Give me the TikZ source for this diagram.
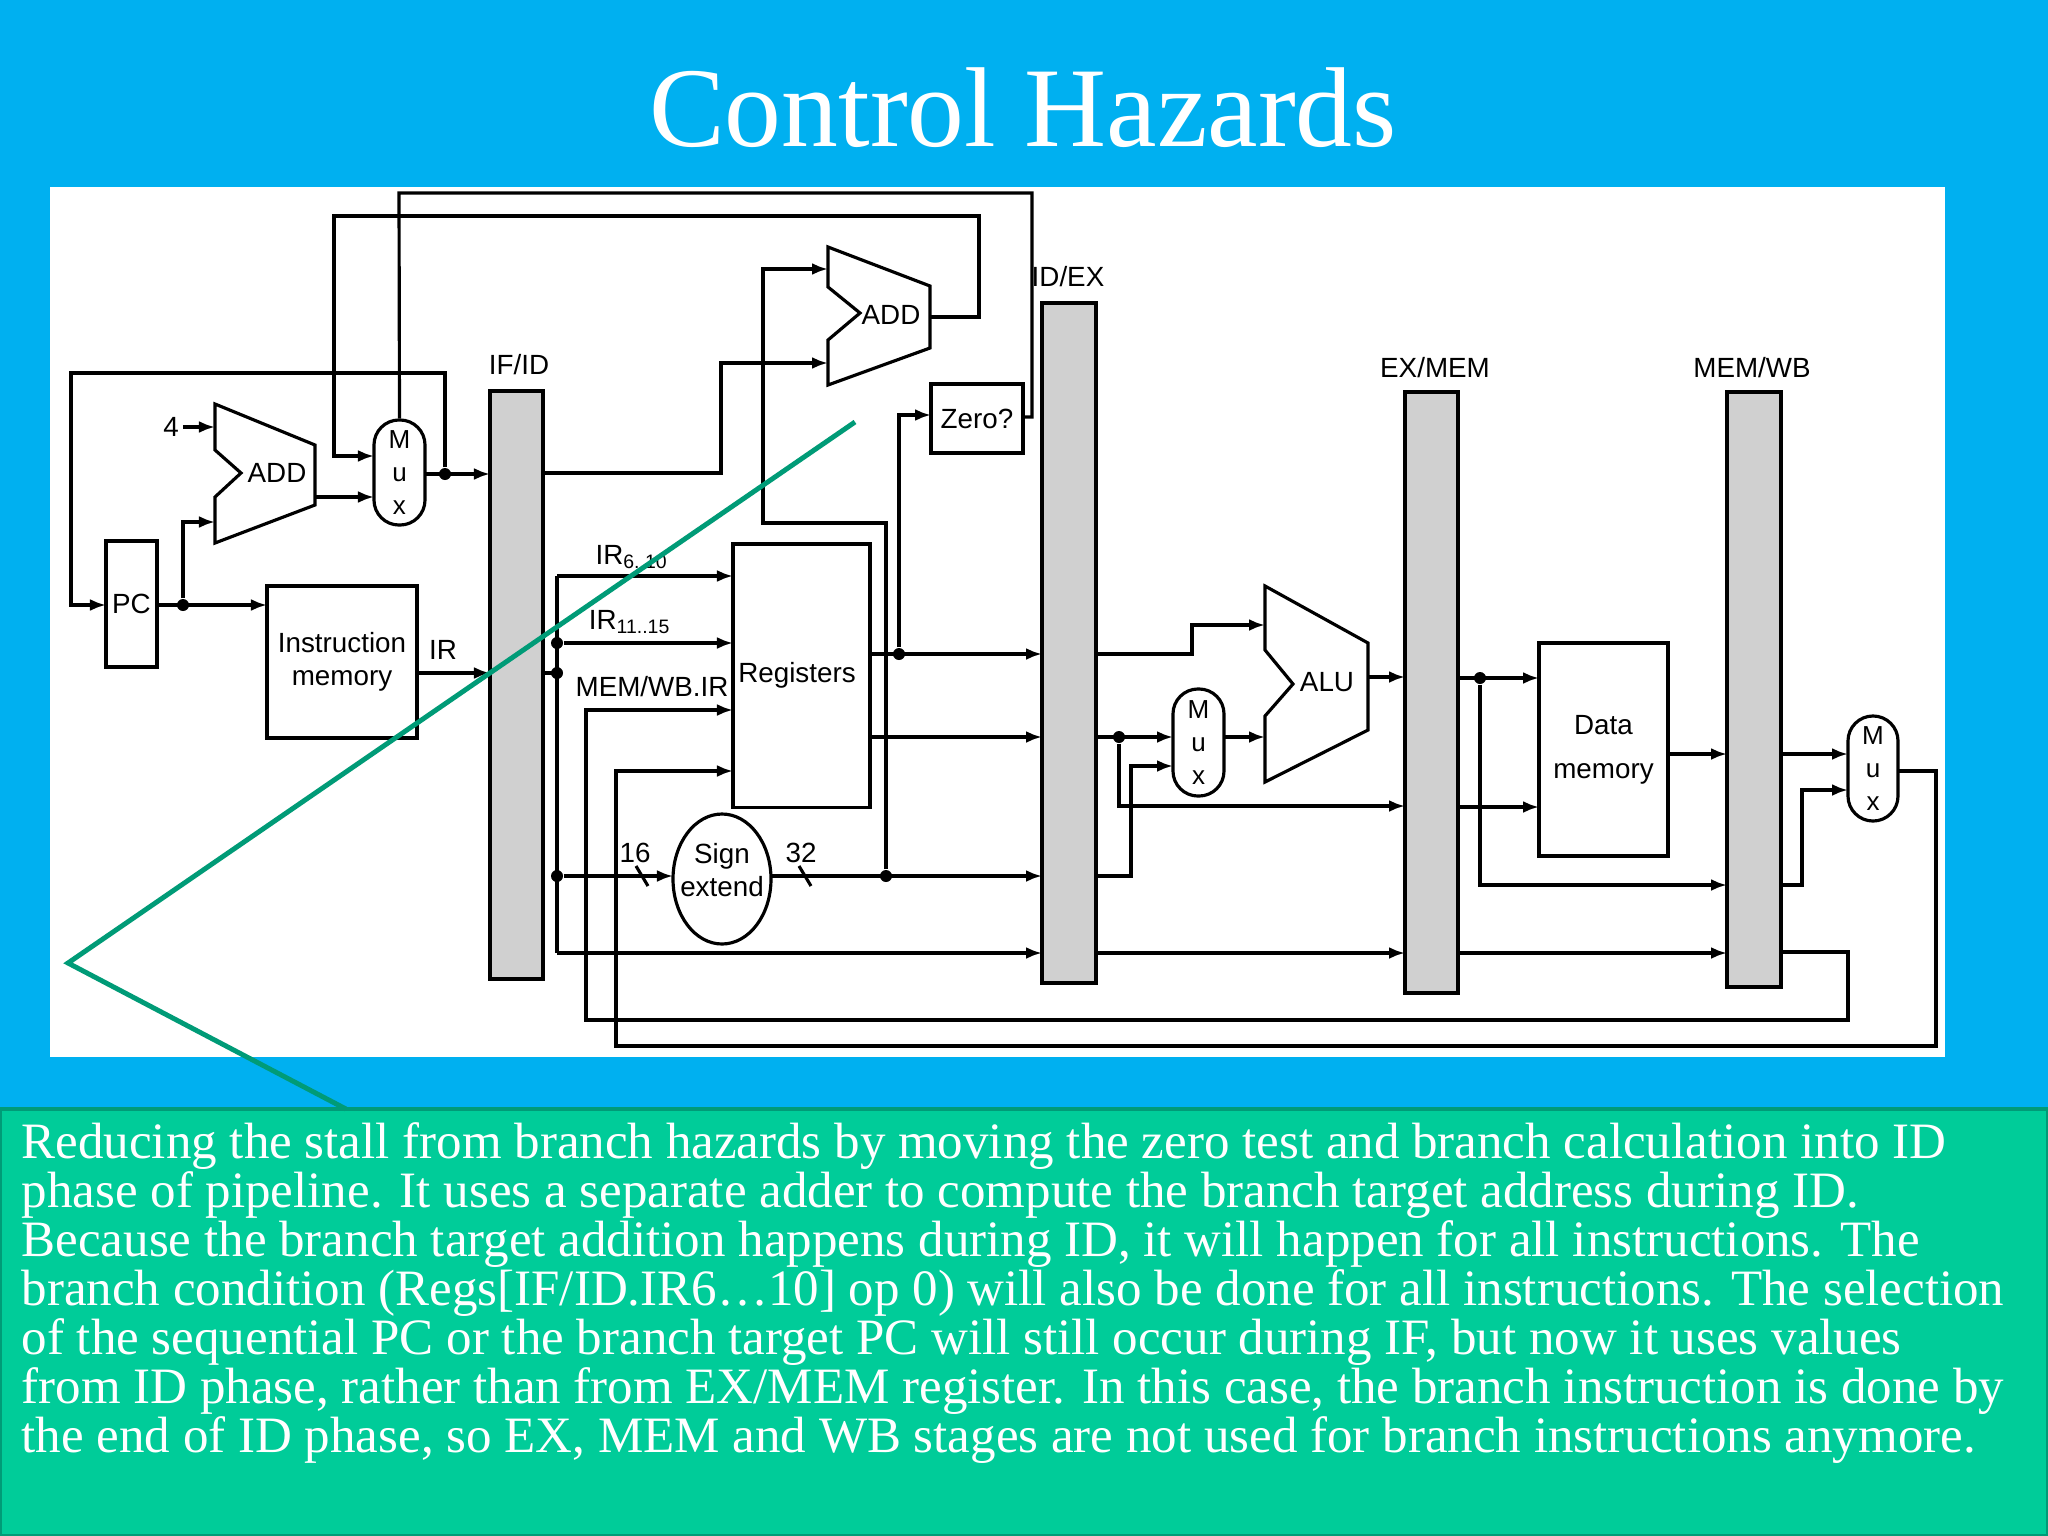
\documentclass[tikz,border=0pt]{standalone}
\usepackage{fontspec}
\setmainfont{Liberation Serif}
\setsansfont{Liberation Sans}
\usetikzlibrary{arrows.meta}
\definecolor{slideblue}{HTML}{00B0F0}
\definecolor{boxgreen}{HTML}{00CC99}
\definecolor{linegreen}{HTML}{009B77}
\definecolor{bargray}{HTML}{D0D0D0}
\begin{document}
\begin{tikzpicture}[x=0.01cm,y=-0.01cm,
  w/.style={line width=0.9pt},
  a/.style={line width=0.9pt,-{Latex[length=1.6mm,width=1.2mm]}},
  dot/.style={circle,fill=black,inner sep=0pt,minimum size=1.2mm},
  bar/.style={draw,line width=0.9pt,fill=bargray},
  blk/.style={draw,line width=0.9pt,fill=white,inner sep=0pt,font=\sffamily\fontsize{7.9}{9.5}\selectfont,align=center},
  mux/.style={draw,line width=0.9pt,fill=white,rounded corners=2.5mm,inner sep=0pt,font=\sffamily\fontsize{7.4}{9.5}\selectfont,align=center},
  lbl/.style={font=\sffamily\fontsize{7.9}{9.5}\selectfont,inner sep=1pt}]
\useasboundingbox (0,0) rectangle (2048,1536);
\fill[slideblue] (0,0) rectangle (2048,1536);
\fill[white] (50,187) rectangle (1945,1057);
\node[text=white,font=\fontsize{32.3}{36}\selectfont,anchor=base] (title) at (1023,146) {Control Hazards};
% green box
\draw[fill=boxgreen,draw=linegreen,line width=1.2pt] (0,1109) rectangle (2048,1536);
\node[text=white,anchor=north west,align=left,inner sep=0pt,font=\fontsize{14.5}{13.95}\selectfont] (body) at (21,1122) {Reducing the stall from branch hazards by moving the zero test and branch calculation into ID\\
phase of pipeline. It uses a separate adder to compute the branch target address during ID.\\
Because the branch target addition happens during ID, it will happen for all instructions. The\\
branch condition (Regs[IF/ID.IR6\ldots10] op 0) will also be done for all instructions. The selection\\
of the sequential PC or the branch target PC will still occur during IF, but now it uses values\\
from ID phase, rather than from EX/MEM register. In this case, the branch instruction is done by\\
the end of ID phase, so EX, MEM and WB stages are not used for branch instructions anymore.};

% pipeline bars
\draw[bar] (490,391) rectangle (543,979);
\draw[bar] (1042,303) rectangle (1096,983);
\draw[bar] (1405,392) rectangle (1458,993);
\draw[bar] (1727,392) rectangle (1781,987);
\node[lbl] (lifid) at (519,365) {IF/ID};
\node[lbl] (lidex) at (1068,277) {ID/EX};
\node[lbl] (lexmem) at (1435,368) {EX/MEM};
\node[lbl] (lmemwb) at (1752,368) {MEM/WB};

% adders and ALU
\draw[w,fill=white] (828,247) -- (930,286) -- (930,348) -- (828,385) -- (828,340) -- (860,313) -- (828,287) -- cycle;
\node[lbl] (add1) at (891,315) {ADD};
\draw[w,fill=white] (215,404) -- (315,445) -- (315,505) -- (215,543) -- (215,497) -- (241,473) -- (215,450) -- cycle;
\node[lbl] (add2) at (277,473) {ADD};
\draw[w,fill=white] (1265,586) -- (1368,643) -- (1368,730) -- (1265,782) -- (1265,716) -- (1293,684) -- (1265,650) -- cycle;
\node[lbl] (alu) at (1327,682) {ALU};

% blocks
\node[blk,minimum width=0.51cm,minimum height=1.26cm] (pc) at (131.5,604) {PC};
\node[blk,minimum width=1.5cm,minimum height=1.52cm] (imem) at (342,662) {Instruction\\memory};
\node[blk,minimum width=0.92cm,minimum height=0.69cm] (zero) at (977,418.5) {Zero?};
\node[blk,minimum width=1.37cm,minimum height=2.63cm] (regs) at (801.5,675.5) {};
\node[lbl] (regst) at (797,675) {Registers};
\node[blk,minimum width=1.29cm,minimum height=2.13cm] (dmem) at (1603.5,749.5) {Data\\[3pt]memory};
\draw[w,fill=white] (722,879) ellipse [x radius=49,y radius=65];
\node[lbl,align=center] (sext) at (722,870) {Sign\\extend};
\node[mux,minimum width=0.51cm,minimum height=1.05cm] (m1) at (399.5,472.5) {M\\u\\x};
\node[mux,minimum width=0.51cm,minimum height=1.07cm] (m2) at (1198.5,742.5) {M\\u\\x};
\node[mux,minimum width=0.5cm,minimum height=1.05cm] (m3) at (1873,768.5) {M\\u\\x};

% IF stage
\draw[w] (zero.east |- 0,417) -- (1032,417) -- (1032,193) -- (399,193) -- (m1.north);
\draw[a] (930,317) -- (979,317) -- (979,216) -- (334,216) -- (334,456) -- (374,456);
\draw[a] (315,497) -- (374,497);
\draw[a] (425,474) -- (490,474);
\node[dot] (j1) at (445,474) {};
\draw[a] (j1) -- (445,373) -- (71,373) -- (71,605) -- (106,605);
\node[lbl] (four) at (171,427) {4};
\draw[a] (four.east) -- (215,427);
\draw[a] (157,605) -- (267,605);
\node[dot] (j2) at (183,605) {};
\draw[a] (j2) -- (183,522) -- (215,522);
\draw[a] (417,673) -- (490,673);
\node[lbl] (irl) at (443,650) {IR};

% ID stage
\draw[w] (543,673) -- (557,673);
\draw[w] (557,576) -- (557,953);
\node[dot] (j3) at (557,643) {};
\node[dot] (j4) at (557,673) {};
\node[dot] (j5) at (557,876) {};
\draw[a] (557,576) -- (733,576);
\draw[a] (j3) -- (733,643);
\draw[a] (j5) -- (673,876);
\draw[w] (636,866) -- (648,886);
\node[lbl] (l16) at (635,853) {16};
\node[lbl] (ir1) at (632,557) {IR\textsubscript{6..10}};
\node[lbl] (ir2) at (630,622) {IR\textsubscript{11..15}};
\node[lbl] (mwir) at (652,687) {MEM/WB.IR};
\draw[a] (543,473) -- (721,473) -- (721,363) -- (828,363);
\draw[a] (870,654) -- (1042,654);
\node[dot] (j6) at (899,654) {};
\draw[a] (j6) -- (899,415) -- (931,415);
\draw[a] (870,737) -- (1042,737);
\draw[a] (771,876) -- (1042,876);
\draw[w] (799,866) -- (811,886);
\node[lbl] (l32) at (801,853) {32};
\node[dot] (j7) at (886,876) {};
\draw[a] (j7) -- (886,523) -- (763,523) -- (763,269) -- (828,269);
\draw[a] (557,953) -- (1042,953);
\draw[a] (1096,953) -- (1405,953);
\draw[a] (1458,953) -- (1727,953);
\draw[a] (1781,952) -- (1848,952) -- (1848,1020) -- (586,1020) -- (586,710) -- (733,710);
\draw[a] (1898,771) -- (1936,771) -- (1936,1046) -- (616,1046) -- (616,771) -- (733,771);

% EX stage
\draw[a] (1096,654) -- (1192,654) -- (1192,625) -- (1265,625);
\draw[a] (1096,737) -- (1173,737);
\node[dot] (j8) at (1119,737) {};
\draw[a] (j8) -- (1119,806) -- (1405,806);
\draw[a] (1096,876) -- (1131,876) -- (1131,766) -- (1173,766);
\draw[a] (1224,737) -- (1265,737);
\draw[a] (1368,677) -- (1405,677);

% MEM / WB
\draw[a] (1458,678) -- (1539,678);
\node[dot] (j9) at (1480,678) {};
\draw[a] (j9) -- (1480,885) -- (1727,885);
\draw[a] (1458,807) -- (1539,807);
\draw[a] (1668,754) -- (1727,754);
\draw[a] (1781,754) -- (1848,754);
\draw[a] (1781,885) -- (1802,885) -- (1802,790) -- (1848,790);

% green callout line
\coordinate (g1) at (855,422);
\coordinate (g2) at (68,963);
\coordinate (g3) at (346,1109);
\draw[linegreen,line width=1.4pt] (g1) -- (g2) -- (g3);
\end{tikzpicture}
\end{document}
